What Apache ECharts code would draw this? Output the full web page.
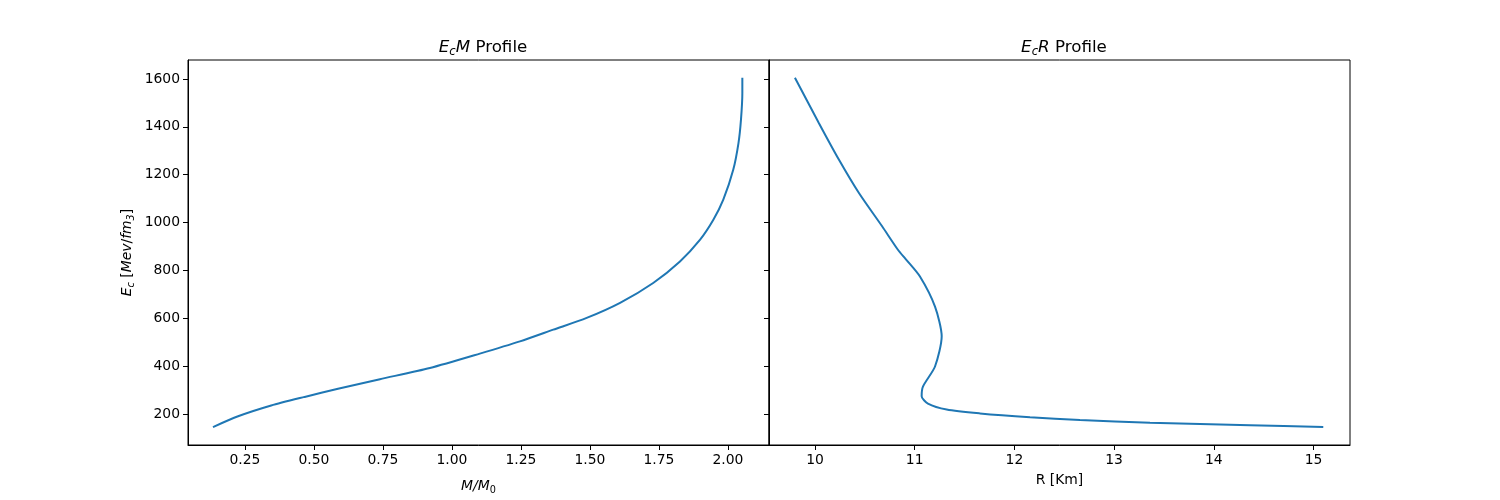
<!DOCTYPE html>
<html>
<head>
<meta charset="utf-8">
<script src="https://cdn.jsdelivr.net/npm/echarts@6/dist/echarts.min.js"></script>
<style>
  html, body { margin: 0; padding: 0; background: #fff; }
  #chart { width: 1500px; height: 500px; }
</style>
</head>
<body>
<div id="chart"></div>
<script>
// values
var massValues = [0.134, 0.225, 0.345, 0.466, 0.587, 0.739, 0.920, 1.101, 1.246, 1.367, 1.488,
                  1.609, 1.729, 1.826, 1.899, 1.947, 1.983, 2.019, 2.038, 2.047, 2.052, 2.052];
var ecMass = [145, 190, 235, 271, 305, 345, 392, 452, 503, 552, 601,
              664, 747, 837, 928, 1011, 1095, 1220, 1332, 1429, 1540, 1605];

var radiusValues = [15.098, 14.363, 13.36, 12.658, 12.157, 11.655, 11.321, 11.133, 11.070, 11.083, 11.204,
                    11.271, 11.204, 11.053, 10.91, 10.832, 10.675, 10.441, 10.241, 10.04, 9.799];
var ecRadius = [145, 153, 163, 174, 186, 202, 218, 243, 274, 314, 398,
                524, 648, 774, 847, 886, 983, 1123, 1262, 1415, 1605];

var yTicks = [200, 400, 600, 800, 1000, 1200, 1400, 1600];
var massTicks = [0.25, 0.5, 0.75, 1.0, 1.25, 1.5, 1.75, 2.0];
var radiusTicks = [10, 11, 12, 13, 14, 15];

var chart = echarts.init(document.getElementById('chart'));
var font = 'DejaVu Sans';
var lineColor = '#1f77b4';

function pairs(xs, ys) {
  var out = [];
  for (var i = 0; i < xs.length; i++) out.push([xs[i], ys[i]]);
  return out;
}

function titleRich(size) {
  return {
    i: { fontStyle: 'italic', fontWeight: 'normal', fontFamily: font, fontSize: size, color: '#000' },
    sub: { fontStyle: 'italic', fontWeight: 'normal', fontFamily: font, fontSize: size * 0.7, color: '#000', padding: [8, 0, 0, 0] },
    n: { fontWeight: 'normal', fontFamily: font, fontSize: size, color: '#000' }
  };
}

function axisCommon() {
  return {
    axisLine: { show: true, onZero: false, lineStyle: { color: '#000', width: 1 } },
    axisTick: { show: true, length: 5, lineStyle: { color: '#000', width: 1 } },
    axisLabel: { color: '#000', fontFamily: font, fontSize: 13.9, margin: 8 },
    splitLine: { show: false }
  };
}

var xLeft = axisCommon();
xLeft.type = 'value';
xLeft.gridIndex = 0;
xLeft.min = 0.0435;
xLeft.max = 2.1486;
xLeft.axisTick.customValues = massTicks;
xLeft.axisLabel.customValues = massTicks;
xLeft.axisLabel.formatter = function (v) { return v.toFixed(2); };
xLeft.name = '{i|M/M}{sub|0}';
xLeft.nameLocation = 'middle';
xLeft.nameGap = 33;
xLeft.nameTextStyle = { fontSize: 13.9, rich: {
  i: { fontStyle: 'italic', fontFamily: font, fontSize: 13.9, color: '#000' },
  sub: { fontFamily: font, fontSize: 9.7, color: '#000', padding: [7, 0, 0, 0] }
} };

var xRight = axisCommon();
xRight.type = 'value';
xRight.gridIndex = 1;
xRight.min = 9.539;
xRight.max = 15.366;
xRight.axisTick.customValues = radiusTicks;
xRight.axisLabel.customValues = radiusTicks;
xRight.name = 'R [Km]';
xRight.nameLocation = 'middle';
xRight.nameGap = 28;
xRight.nameTextStyle = { color: '#000', fontFamily: font, fontSize: 13.9 };

var yLeft = axisCommon();
yLeft.type = 'value';
yLeft.gridIndex = 0;
yLeft.min = 70;
yLeft.max = 1679;
yLeft.axisTick.customValues = yTicks;
yLeft.axisLabel.customValues = yTicks;
yLeft.axisLabel.formatter = function (v) { return String(v); };
yLeft.name = '{i|E}{sub|c}{n| [}{i|Mev}{n|/}{i|fm}{sub|3}{n|]}';
yLeft.nameLocation = 'middle';
yLeft.nameRotate = 90;
yLeft.nameGap = 52;
yLeft.nameTextStyle = { fontSize: 13.9, rich: {
  i: { fontStyle: 'italic', fontFamily: font, fontSize: 13.9, color: '#000' },
  n: { fontFamily: font, fontSize: 13.9, color: '#000' },
  sub: { fontStyle: 'italic', fontFamily: font, fontSize: 9.7, color: '#000', padding: [7, 0, 0, 0] }
} };

var yRight = axisCommon();
yRight.type = 'value';
yRight.gridIndex = 1;
yRight.min = 70;
yRight.max = 1679;
yRight.axisTick.customValues = yTicks;
yRight.axisLabel.show = false;

chart.setOption({
  backgroundColor: '#fff',
  animation: false,
  title: [
    { text: '{i|E}{sub|c}{i|M}{n| Profile}', left: 478, top: 33, textAlign: 'center',
      textStyle: { fontWeight: 'normal', rich: titleRich(16.7) } },
    { text: '{i|E}{sub|c}{i|R}{n| Profile}', left: 1059, top: 33, textAlign: 'center',
      textStyle: { fontWeight: 'normal', rich: titleRich(16.7) } }
  ],
  grid: [
    { left: 188, top: 60, width: 581, height: 385, show: true, borderColor: '#000', borderWidth: 1, backgroundColor: 'transparent' },
    { left: 769, top: 60, width: 581, height: 385, show: true, borderColor: '#000', borderWidth: 1, backgroundColor: 'transparent' }
  ],
  xAxis: [xLeft, xRight],
  yAxis: [yLeft, yRight],
  series: [
    {
      type: 'line', xAxisIndex: 0, yAxisIndex: 0,
      data: pairs(massValues, ecMass),
      showSymbol: false, smooth: 0.25,
      lineStyle: { color: lineColor, width: 2 }
    },
    {
      type: 'line', xAxisIndex: 1, yAxisIndex: 1,
      data: pairs(radiusValues, ecRadius),
      showSymbol: false, smooth: 0.25,
      lineStyle: { color: lineColor, width: 2 }
    }
  ]
});
</script>
</body>
</html>
